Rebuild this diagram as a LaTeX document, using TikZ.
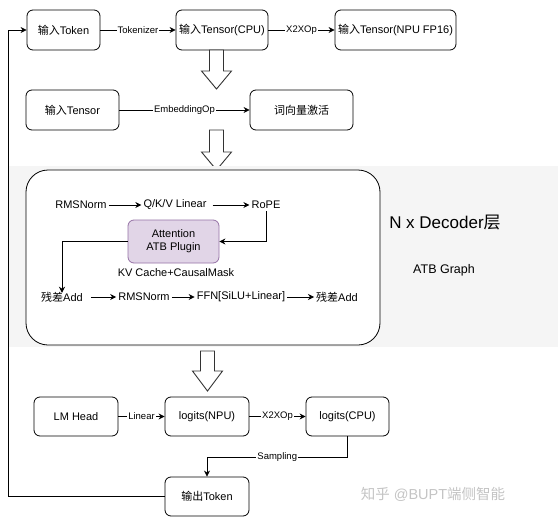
\documentclass[tikz,border=0pt]{standalone}
\usepackage{fontspec}
\setmainfont{Liberation Sans}
\newfontfamily\cjk{Noto Sans CJK SC}
\usetikzlibrary{positioning, arrows.meta, calc}
\definecolor{bandgray}{HTML}{F5F5F5}
\definecolor{attnfill}{HTML}{E1D5E7}
\definecolor{attnline}{HTML}{9673A6}
\definecolor{markgray}{HTML}{C4C4C4}

\begin{document}
\begin{tikzpicture}[x=1pt, y=-1pt, font=\fontsize{11}{13}\selectfont,
    box/.style={draw, rounded corners=6pt, minimum height=40pt, align=center, inner sep=2pt, line width=0.8pt},
    op/.style={inner sep=2pt},
    flow/.style={-{Stealth[length=6pt,width=6pt]}, line width=0.8pt},
    lbl/.style={fill=white, inner sep=1pt, font=\fontsize{9.5}{11}\selectfont},
    fatarrow/.style={draw=black!80, fill=white, line width=0.9pt, line join=miter}]
  \useasboundingbox (0,0) rectangle (558,517);

  % top rows
  \node[box, minimum width=73pt] (tok) at (63.5,30) {{\cjk 输入}Token};
  \node[box, minimum width=92pt] (tcpu) at (222,30) {{\cjk 输入}Tensor(CPU)};
  \node[box, minimum width=121pt] (tnpu) at (395.5,30) {{\cjk 输入}Tensor(NPU FP16)};
  \draw[flow] (tok) -- node[lbl] {Tokenizer} (tcpu);
  \draw[flow] (tcpu) -- node[lbl] {X2XOp} (tnpu);

  \node[box, minimum width=93pt] (tin) at (72.5,110) {{\cjk 输入}Tensor};
  \node[box, minimum width=103pt] (emb) at (301.5,110) {\cjk 词向量激活};
  \draw[flow] (tin) -- node[lbl] {EmbeddingOp} (emb);

  \draw[fatarrow] (209.5,50) -- (223.5,50) -- (223.5,71) -- (231.5,71) -- (216.5,89)
    -- (201.5,71) -- (209.5,71) -- cycle;
  \draw[fatarrow] (209.5,130) -- (223.5,130) -- (223.5,152) -- (231.5,152) -- (216.5,170)
    -- (201.5,152) -- (209.5,152) -- cycle;

  % decoder layer
  \fill[bandgray] (9,166) rectangle (558,347);
  \draw[line width=0.8pt, rounded corners=22pt, fill=white] (26,170) rectangle (380,345);

  \node[op] (rms1) at (81,205) {RMSNorm};
  \node[op] (qkv) at (175,205) {Q/K/V Linear};
  \node[op] (rope) at (266,205) {RoPE};
  \node[draw=attnline, fill=attnfill, rounded corners=6pt, line width=0.8pt,
        minimum width=91pt, minimum height=43pt, align=center] (attn) at (173.5,241.5)
        {Attention\\ATB Plugin};
  \node[op] (kv) at (176,273) {KV Cache+CausalMask};
  \node[op] (add1) at (62,297) {{\cjk 残差}Add};
  \node[op] (rms2) at (144,297) {RMSNorm};
  \node[op] (ffn) at (241,297) {FFN[SiLU+Linear]};
  \node[op] (add2) at (337,297) {{\cjk 残差}Add};

  \draw[flow] (rms1) -- (qkv);
  \draw[flow, shorten <=4pt] (qkv) -- (rope);
  \draw[flow] (rope.south) |- (attn.east);
  \draw[flow] (attn.west) -| ([yshift=-3pt]add1.north);
  \draw[flow, shorten <=6pt] (add1) -- (rms2);
  \draw[flow] (rms2) -- (ffn);
  \draw[flow] (ffn) -- (add2);

  \node[font=\fontsize{17}{20}\selectfont] (nx) at (445,223) {N x Decoder{\cjk 层}};
  \node[font=\fontsize{12.5}{15}\selectfont] (atb) at (444,270) {ATB Graph};

  \draw[fatarrow] (200.5,351) -- (214.5,351) -- (214.5,371) -- (222.5,371) -- (207.5,391)
    -- (192.5,371) -- (200.5,371) -- cycle;

  % head and sampling
  \node[box, minimum width=84pt, minimum height=39pt] (lmh) at (76,416.5) {LM Head};
  \node[box, minimum width=84pt, minimum height=39pt] (lnpu) at (207,416.5) {logits(NPU)};
  \node[box, minimum width=83pt, minimum height=39pt] (lcpu) at (347.5,416.5) {logits(CPU)};
  \node[box, minimum width=84pt, minimum height=39pt] (otok) at (207,496.5) {{\cjk 输出}Token};
  \draw[flow] (lmh) -- node[lbl] {Linear} (lnpu);
  \draw[flow] (lnpu) -- node[lbl] {X2XOp} (lcpu);
  \draw[flow] (lcpu.south) -- ++(0,21) -| node[lbl, pos=0.25] {Sampling} (otok.north);

  \coordinate (loop) at (8,30);
  \draw[flow] (otok.west) -| (loop) -- (tok.west);

  \node[text=markgray, font=\fontsize{14.5}{17}\selectfont] (mark) at (433,494)
    {{\cjk 知乎} @BUPT{\cjk 端侧智能}};
\end{tikzpicture}
\end{document}
